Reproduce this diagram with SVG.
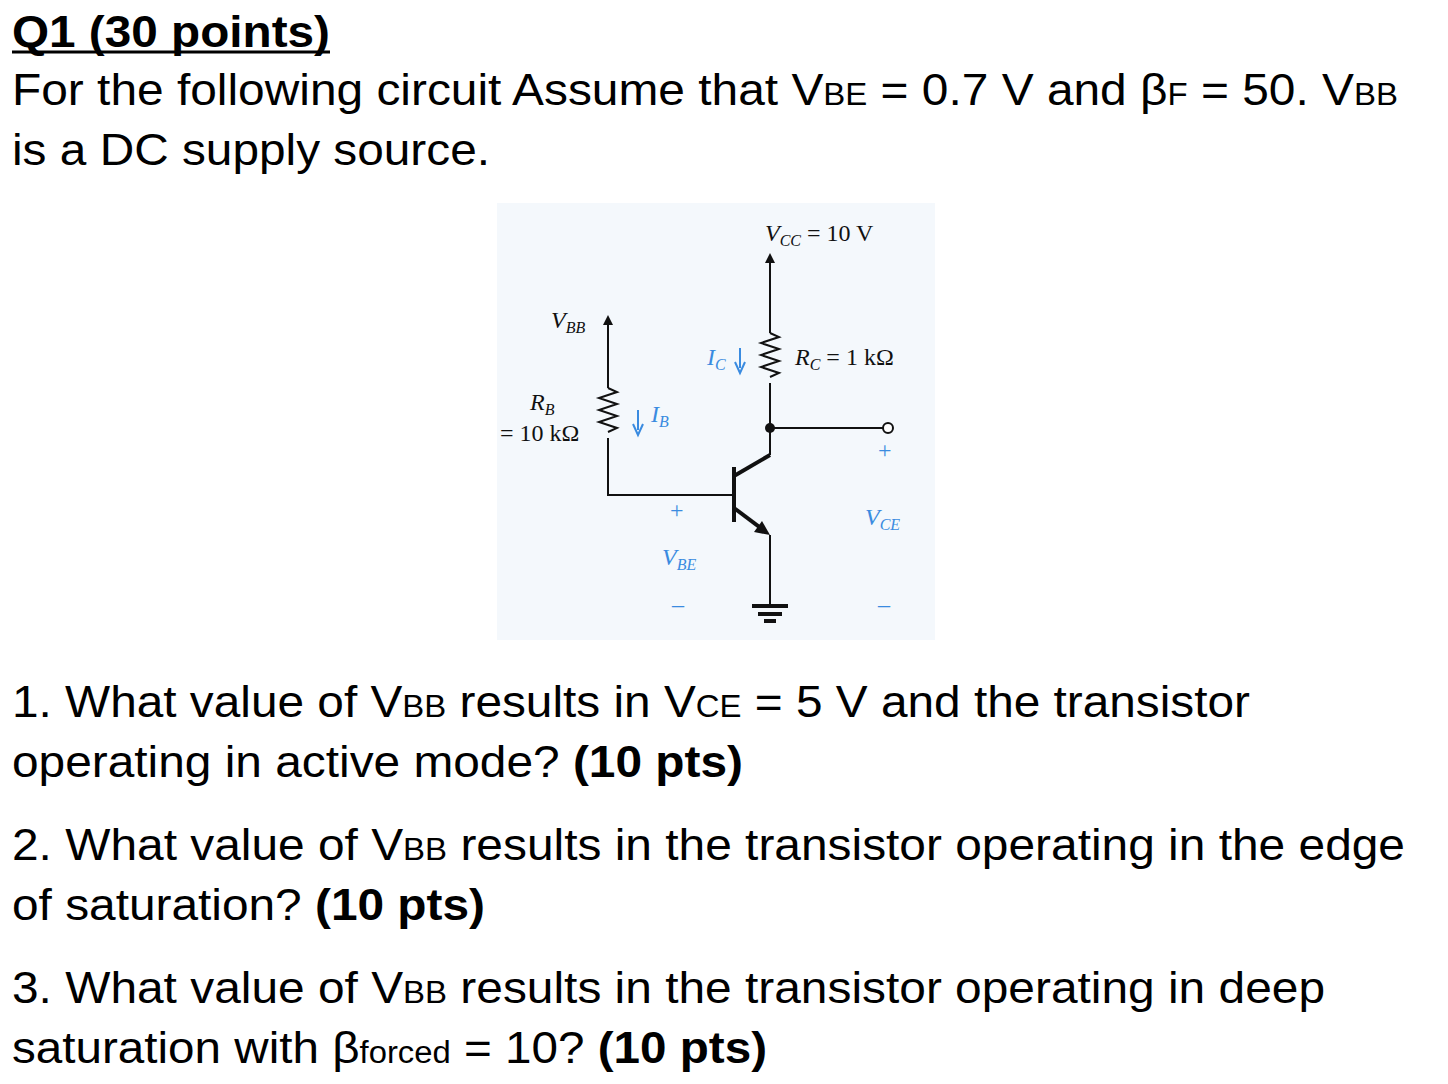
<svg xmlns="http://www.w3.org/2000/svg" width="1448" height="1084" viewBox="0 0 1448 1084">
<defs>
<style>
.t{font-family:"Liberation Sans",Arial,sans-serif;font-size:45px;fill:#000}
.s{font-size:31px}
.b{font-weight:bold}
.c{font-family:"Liberation Serif","Times New Roman",serif;font-size:24px;fill:#111}
.cs{font-size:16px}
.bl{fill:#3a8be0}
.w{stroke:#111;stroke-width:2;fill:none}
.wb{stroke:#111;stroke-width:4;fill:none}
</style>
<marker id="ah" viewBox="0 0 10 10" refX="5" refY="5" markerWidth="5" markerHeight="5" orient="auto"><path d="M0,0L10,5L0,10z" fill="#111"/></marker>
</defs>
<rect width="1448" height="1084" fill="#fff"/>
<g id="text">
<text x="12" y="47" class="t b" textLength="318" lengthAdjust="spacingAndGlyphs">Q1 (30 points)</text>
<line x1="12" y1="52" x2="330" y2="52" stroke="#000" stroke-width="3"/>
<text x="12" y="105" class="t" textLength="1386" lengthAdjust="spacingAndGlyphs">For the following circuit Assume that V<tspan class="s">BE</tspan> = 0.7 V and β<tspan class="s">F</tspan> = 50. V<tspan class="s">BB</tspan></text>
<text x="12" y="165" class="t" textLength="478" lengthAdjust="spacingAndGlyphs">is a DC supply source.</text>
<text x="12" y="717" class="t" textLength="1238" lengthAdjust="spacingAndGlyphs">1. What value of V<tspan class="s">BB</tspan> results in V<tspan class="s">CE</tspan> = 5 V and the transistor</text>
<text x="12" y="777" class="t" textLength="731" lengthAdjust="spacingAndGlyphs">operating in active mode? <tspan class="b">(10 pts)</tspan></text>
<text x="12" y="860" class="t" textLength="1393" lengthAdjust="spacingAndGlyphs">2. What value of V<tspan class="s">BB</tspan> results in the transistor operating in the edge</text>
<text x="12" y="920" class="t" textLength="473" lengthAdjust="spacingAndGlyphs">of saturation? <tspan class="b">(10 pts)</tspan></text>
<text x="12" y="1003" class="t" textLength="1313" lengthAdjust="spacingAndGlyphs">3. What value of V<tspan class="s">BB</tspan> results in the transistor operating in deep</text>
<text x="12" y="1063" class="t" textLength="755" lengthAdjust="spacingAndGlyphs">saturation with β<tspan class="s">forced</tspan> = 10? <tspan class="b">(10 pts)</tspan></text>
</g>
<g id="circuit">
<rect x="497" y="203" width="438" height="437" fill="#f4f8fc"/>
<g id="connectors">
<path class="w" d="M770,333V258" marker-end="url(#ah)"/>
<path class="w" d="M770,333l9,4l-18,6l18,6l-18,6l18,6l-18,6l18,6l-9,4"/>
<path class="w" d="M770,383V455"/>
<path class="w" d="M770,428H883"/>
<circle cx="888" cy="428" r="5" fill="#fff" stroke="#111" stroke-width="2"/>
<circle cx="770" cy="428" r="5" fill="#111"/>
<path class="wb" d="M770,455L734,476"/>
<path class="wb" d="M734,467V522"/>
<path class="wb" d="M734,508L766,532"/>
<path d="M770,535L754,532L762,521z" fill="#111"/>
<path class="w" d="M770,535V605"/>
<path class="wb" d="M752,606H788M758,614H782M764,621H776"/>
<path class="w" d="M608,388V320" marker-end="url(#ah)"/>
<path class="w" d="M608,388l9,4l-18,6l18,6l-18,6l18,6l-18,6l18,6l-9,4"/>
<path class="w" d="M608,438V495H734"/>
<path d="M740,348V368M735,362L740,373L745,362" stroke="#3a8be0" stroke-width="2" fill="none"/>
<path d="M638,410V430M633,424L638,435L643,424" stroke="#3a8be0" stroke-width="2" fill="none"/>
</g>
<text x="765" y="241" class="c"><tspan font-style="italic">V</tspan><tspan class="cs" font-style="italic" dy="5">CC</tspan><tspan dy="-5"> = 10 V</tspan></text>
<text x="551" y="328" class="c" font-style="italic">V<tspan class="cs" dy="5">BB</tspan></text>
<text x="795" y="365" class="c"><tspan font-style="italic">R</tspan><tspan class="cs" font-style="italic" dy="5">C</tspan><tspan dy="-5"> = 1 kΩ</tspan></text>
<text x="707" y="365" class="c bl" font-style="italic">I<tspan class="cs" dy="5">C</tspan></text>
<text x="530" y="410" class="c" font-style="italic">R<tspan class="cs" dy="5">B</tspan></text>
<text x="500" y="441" class="c">= 10 kΩ</text>
<text x="651" y="422" class="c bl" font-style="italic">I<tspan class="cs" dy="5">B</tspan></text>
<text x="878" y="458" class="c bl">+</text>
<text x="670" y="518" class="c bl">+</text>
<text x="865" y="525" class="c bl" font-style="italic">V<tspan class="cs" dy="5">CE</tspan></text>
<text x="662" y="565" class="c bl" font-style="italic">V<tspan class="cs" dy="5">BE</tspan></text>
<text x="672" y="612" class="c bl">–</text>
<text x="878" y="612" class="c bl">–</text>
</g>
</svg>
